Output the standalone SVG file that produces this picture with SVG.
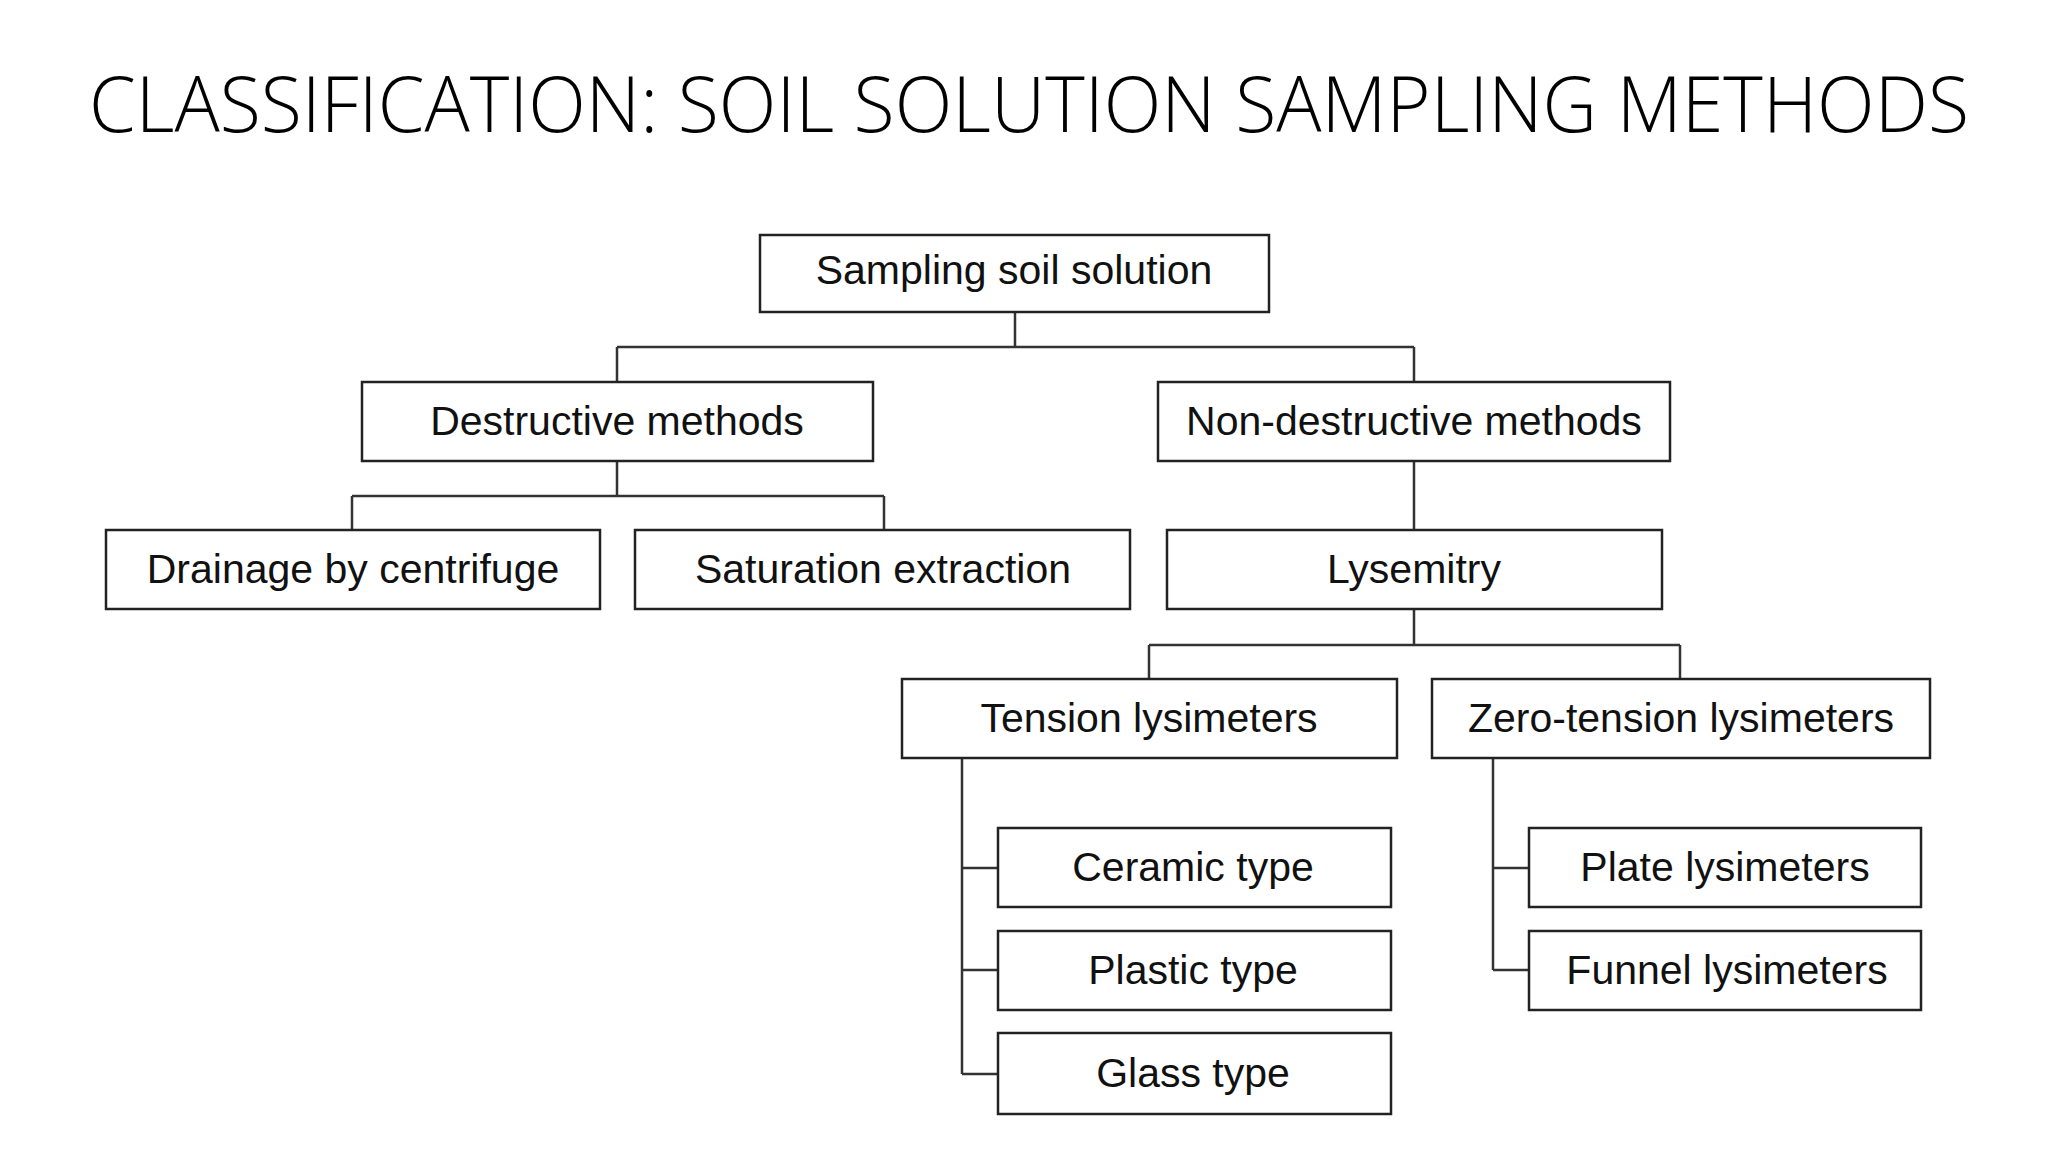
<svg xmlns="http://www.w3.org/2000/svg" width="2048" height="1152" viewBox="0 0 2048 1152">
<style>
.b rect{fill:#fff;stroke:#222;stroke-width:2.5}
.b text{font-family:"Liberation Sans",Arial,sans-serif;font-size:41px;fill:#111;text-anchor:middle}
#c{fill:none;stroke:#333;stroke-width:2.5}
</style>
<rect width="2048" height="1152" fill="#fff"/>
<text x="1029" y="132" font-family="Open Sans,sans-serif" font-weight="300" font-size="78" text-anchor="middle" textLength="1880" lengthAdjust="spacingAndGlyphs" fill="#000">CLASSIFICATION: SOIL SOLUTION SAMPLING METHODS</text>
<g id="c">
<path d="M1015 312V347M617 347H1414M617 347V382M1414 347V382"/>
<path d="M617 461V496M352 496H884M352 496V530M884 496V530"/>
<path d="M1414 461V530"/>
<path d="M1414 609V645M1149 645H1680M1149 645V679M1680 645V679"/>
<path d="M962 758V1074M962 868H998M962 970H998M962 1074H998"/>
<path d="M1493 758V970M1493 868H1529M1493 970H1529"/>
</g>
<g id="n1" class="b"><rect x="760" y="235" width="509" height="77"/><text x="1014" y="284">Sampling soil solution</text></g>
<g id="n2" class="b"><rect x="362" y="382" width="511" height="79"/><text x="617" y="435">Destructive methods</text></g>
<g id="n3" class="b"><rect x="1158" y="382" width="512" height="79"/><text x="1414" y="435">Non-destructive methods</text></g>
<g id="n4" class="b"><rect x="106" y="530" width="494" height="79"/><text x="353" y="583">Drainage by centrifuge</text></g>
<g id="n5" class="b"><rect x="635" y="530" width="495" height="79"/><text x="883" y="583">Saturation extraction</text></g>
<g id="n6" class="b"><rect x="1167" y="530" width="495" height="79"/><text x="1414" y="583">Lysemitry</text></g>
<g id="n7" class="b"><rect x="902" y="679" width="495" height="79"/><text x="1149" y="732">Tension lysimeters</text></g>
<g id="n8" class="b"><rect x="1432" y="679" width="498" height="79"/><text x="1681" y="732">Zero-tension lysimeters</text></g>
<g id="n9" class="b"><rect x="998" y="828" width="393" height="79"/><text x="1193" y="881">Ceramic type</text></g>
<g id="n10" class="b"><rect x="998" y="931" width="393" height="79"/><text x="1193" y="984">Plastic type</text></g>
<g id="n11" class="b"><rect x="998" y="1033" width="393" height="81"/><text x="1193" y="1087">Glass type</text></g>
<g id="n12" class="b"><rect x="1529" y="828" width="392" height="79"/><text x="1725" y="881">Plate lysimeters</text></g>
<g id="n13" class="b"><rect x="1529" y="931" width="392" height="79"/><text x="1727" y="984">Funnel lysimeters</text></g>
</svg>
